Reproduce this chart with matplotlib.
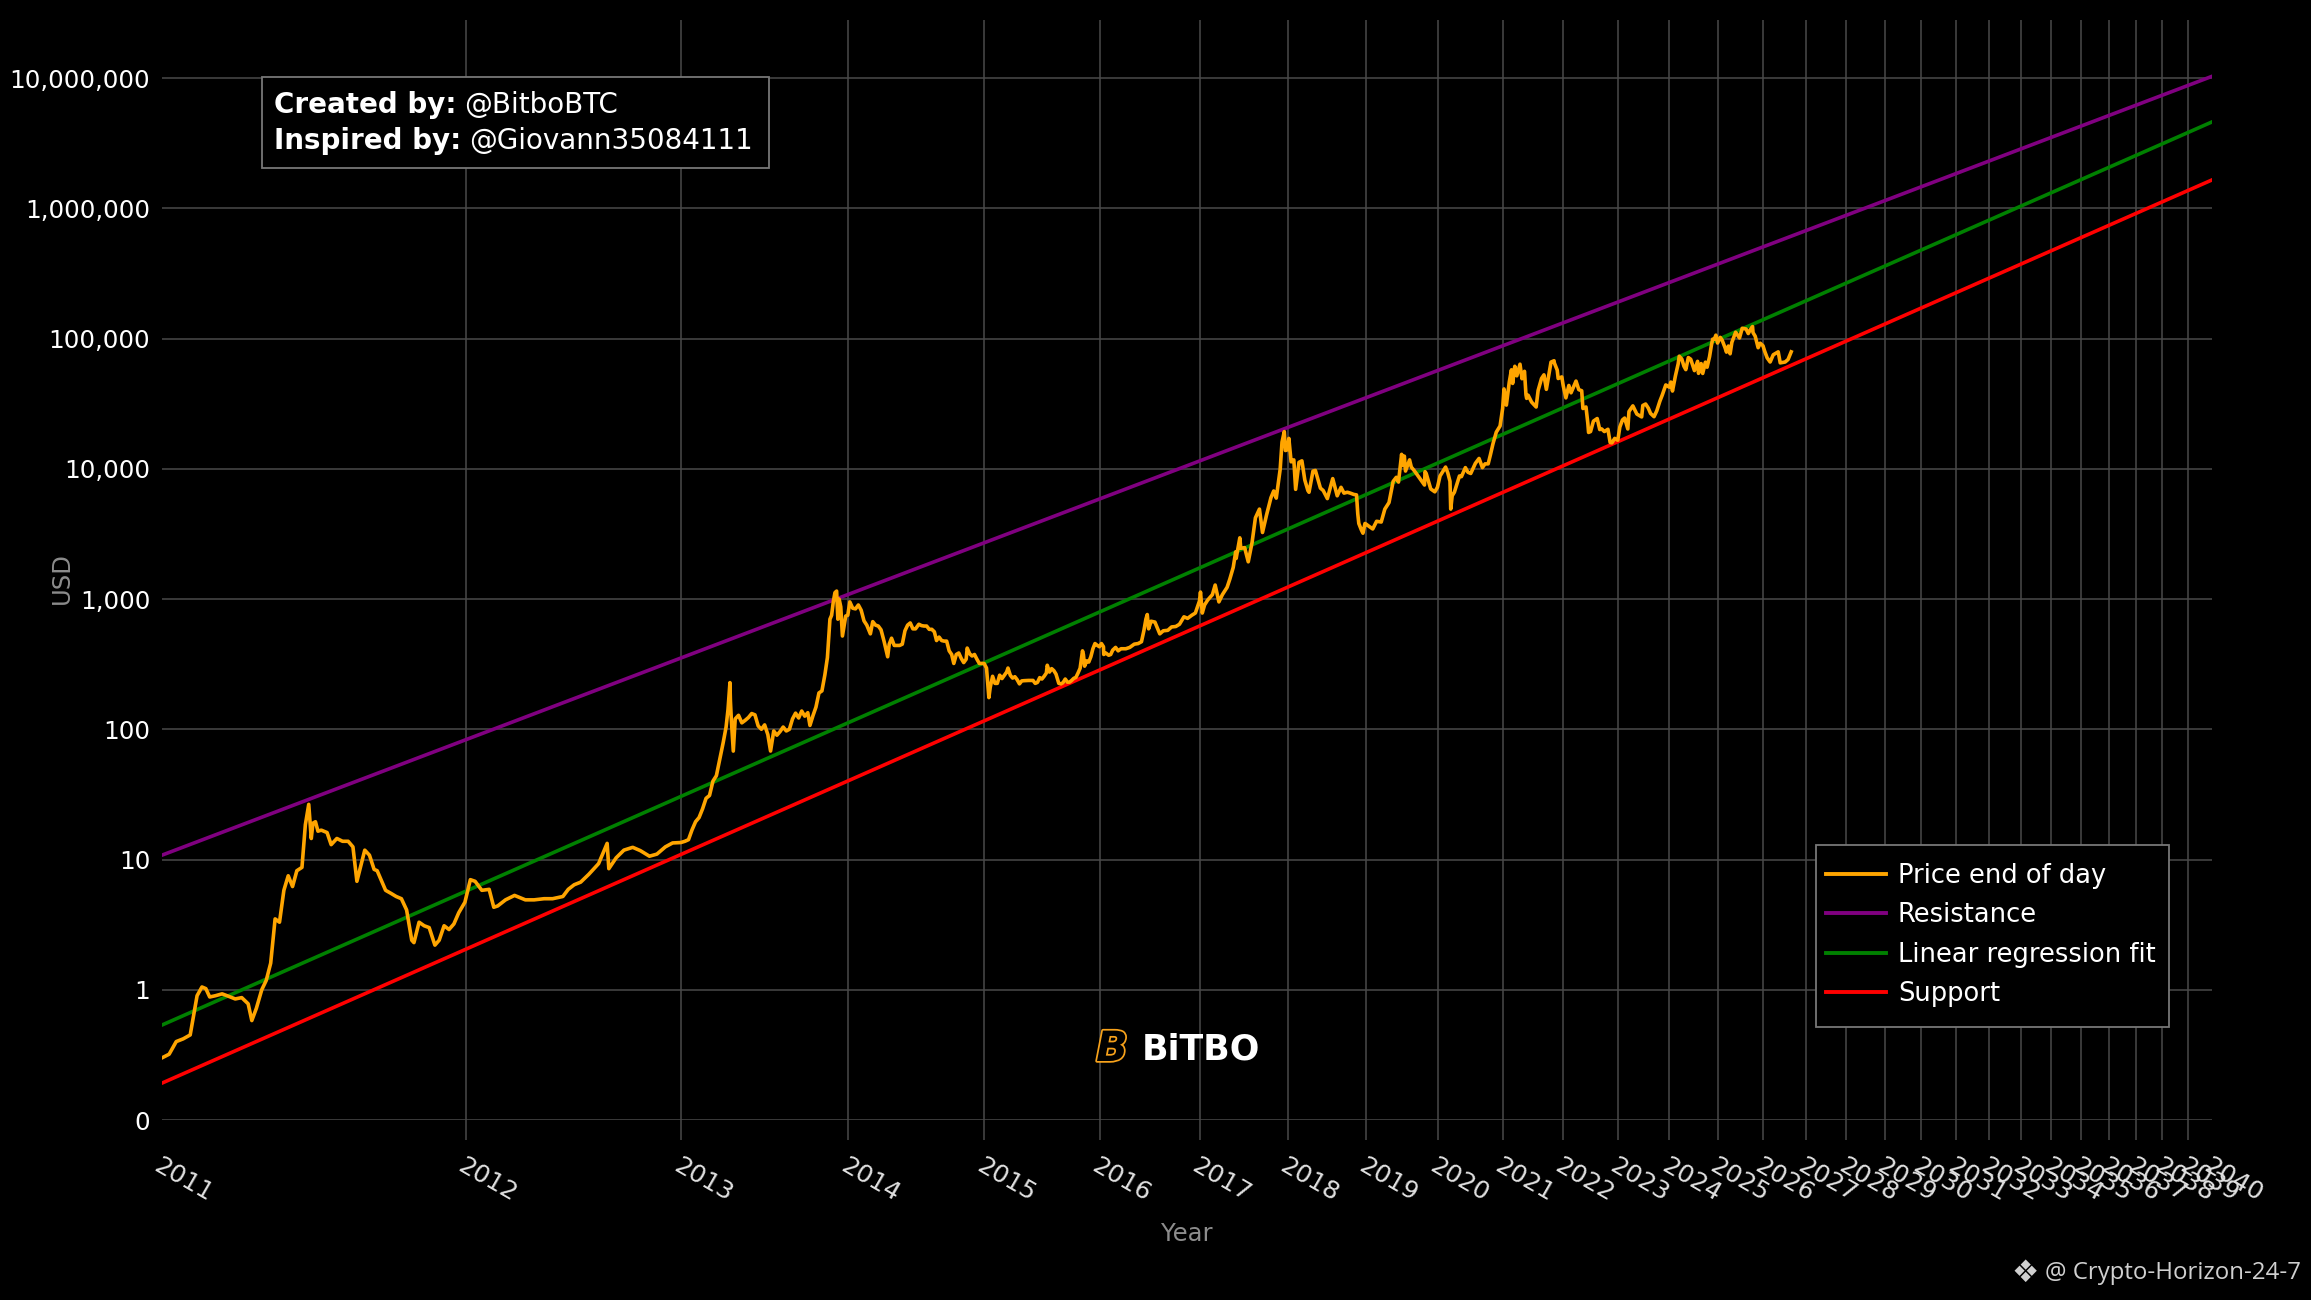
import numpy as np
import matplotlib
matplotlib.use("Agg")
import matplotlib.pyplot as plt
import matplotlib.patheffects as pe
from matplotlib.patches import Rectangle
from matplotlib.ticker import FuncFormatter, NullLocator

plt.rcParams["font.family"] = ["DejaVu Sans"]

GENESIS = np.datetime64("2009-01-03")

# price end of day (month-day, USD)
price_2011 = [("01-01", 0.30), ("01-08", 0.32), ("01-15", 0.40), ("01-22", 0.42), ("01-29", 0.45),
              ("02-05", 0.90), ("02-10", 1.05), ("02-14", 1.02), ("02-18", 0.88), ("02-24", 0.90),
              ("03-03", 0.93), ("03-10", 0.89), ("03-17", 0.85), ("03-24", 0.87), ("03-31", 0.78),
              ("04-04", 0.58), ("04-09", 0.72), ("04-15", 1.00), ("04-20", 1.18), ("04-25", 1.60),
              ("04-30", 3.50), ("05-05", 3.30), ("05-10", 5.80), ("05-15", 7.50), ("05-20", 6.20),
              ("05-25", 8.20), ("05-31", 8.70), ("06-04", 18.5), ("06-08", 26.5), ("06-11", 14.5),
              ("06-13", 19.0), ("06-16", 19.5), ("06-19", 16.5), ("06-23", 16.8), ("06-30", 16.1),
              ("07-05", 13.0), ("07-12", 14.5), ("07-19", 13.8), ("07-26", 13.8), ("08-01", 12.5),
              ("08-06", 6.8), ("08-12", 9.5), ("08-16", 11.8), ("08-22", 10.8), ("08-28", 8.4),
              ("09-01", 8.2), ("09-06", 7.0), ("09-12", 5.8), ("09-19", 5.5), ("09-26", 5.2),
              ("10-03", 5.0), ("10-10", 4.1), ("10-17", 2.4), ("10-20", 2.3), ("10-27", 3.3),
              ("11-03", 3.1), ("11-10", 3.0), ("11-18", 2.2), ("11-24", 2.4), ("12-01", 3.1),
              ("12-08", 2.9), ("12-15", 3.2), ("12-22", 3.9), ("12-31", 4.7)]
price_2012 = [("01-08", 7.0), ("01-15", 6.8), ("01-25", 5.8), ("02-05", 5.9), ("02-12", 4.3),
              ("02-18", 4.4), ("03-01", 4.9), ("03-15", 5.3), ("04-01", 4.9), ("04-15", 4.9),
              ("05-01", 5.0), ("05-15", 5.0), ("06-01", 5.2), ("06-10", 5.9), ("06-20", 6.4),
              ("07-01", 6.7), ("07-15", 7.7), ("08-01", 9.3), ("08-16", 13.3), ("08-19", 8.5),
              ("09-01", 10.3), ("09-15", 11.8), ("10-01", 12.4), ("10-15", 11.7), ("11-01", 10.6),
              ("11-15", 11.0), ("12-01", 12.5), ("12-15", 13.4), ("12-31", 13.5)]
price_2013 = [("01-08", 13.8), ("01-15", 14.2), ("01-22", 16.9), ("01-29", 19.5), ("02-05", 21.0),
              ("02-12", 24.5), ("02-19", 29.5), ("02-26", 31.0), ("03-05", 40.0), ("03-12", 44.0),
              ("03-19", 59.0), ("03-26", 79.0), ("04-01", 104), ("04-05", 142), ("04-09", 228),
              ("04-10", 165), ("04-12", 117), ("04-16", 68), ("04-20", 120), ("04-27", 128),
              ("05-04", 112), ("05-11", 117), ("05-18", 123), ("05-25", 132), ("06-01", 129),
              ("06-08", 106), ("06-15", 100), ("06-22", 108), ("06-29", 91), ("07-05", 68),
              ("07-12", 97), ("07-19", 90), ("07-26", 96), ("08-02", 104), ("08-09", 97),
              ("08-16", 100), ("08-23", 120), ("08-30", 133), ("09-06", 122), ("09-13", 138),
              ("09-20", 126), ("09-27", 134), ("10-02", 107), ("10-09", 127), ("10-16", 148),
              ("10-23", 190), ("10-30", 197), ("11-06", 262), ("11-12", 355), ("11-18", 700),
              ("11-22", 750), ("11-26", 950), ("11-30", 1120), ("12-04", 1150), ("12-07", 700),
              ("12-10", 1000), ("12-14", 870), ("12-18", 520), ("12-22", 620), ("12-26", 740),
              ("12-31", 750)]
price_2014 = [("01-05", 950), ("01-12", 850), ("01-19", 840), ("01-26", 900), ("02-02", 820),
              ("02-09", 680), ("02-16", 630), ("02-25", 540), ("03-03", 670), ("03-10", 630),
              ("03-17", 620), ("03-24", 580), ("04-01", 470), ("04-10", 360), ("04-14", 450),
              ("04-20", 500), ("04-27", 440), ("05-04", 440), ("05-11", 440), ("05-18", 450),
              ("05-25", 570), ("06-01", 630), ("06-08", 655), ("06-15", 590), ("06-22", 590),
              ("07-01", 640), ("07-08", 625), ("07-15", 620), ("07-22", 620), ("07-29", 585),
              ("08-05", 585), ("08-12", 560), ("08-18", 480), ("08-25", 510), ("09-01", 480),
              ("09-08", 475), ("09-15", 475), ("09-22", 400), ("09-29", 375), ("10-05", 320),
              ("10-12", 375), ("10-19", 385), ("10-26", 350), ("11-02", 325), ("11-09", 345),
              ("11-12", 420), ("11-19", 380), ("11-26", 365), ("12-03", 375), ("12-10", 345),
              ("12-17", 320), ("12-24", 320), ("12-31", 320)]
price_2015 = [("01-07", 295), ("01-14", 175), ("01-18", 210), ("01-25", 255), ("02-01", 225),
              ("02-08", 225), ("02-15", 260), ("02-22", 245), ("03-01", 260), ("03-08", 275),
              ("03-12", 295), ("03-19", 260), ("03-26", 247), ("04-02", 253), ("04-09", 240),
              ("04-16", 223), ("04-23", 235), ("04-30", 236), ("05-14", 237), ("05-28", 237),
              ("06-04", 225), ("06-11", 229), ("06-18", 249), ("06-25", 243), ("07-02", 255),
              ("07-09", 270), ("07-12", 310), ("07-19", 275), ("07-26", 292), ("08-02", 282),
              ("08-09", 265), ("08-18", 225), ("08-25", 223), ("09-01", 228), ("09-08", 243),
              ("09-15", 230), ("09-22", 230), ("09-29", 237), ("10-06", 246), ("10-13", 250),
              ("10-20", 270), ("10-27", 294), ("11-04", 400), ("11-07", 375), ("11-11", 305),
              ("11-18", 335), ("11-25", 328), ("12-02", 360), ("12-09", 415), ("12-16", 455),
              ("12-23", 442), ("12-31", 430)]
price_2016 = [("01-07", 455), ("01-14", 430), ("01-15", 375), ("01-22", 385), ("02-01", 370),
              ("02-08", 375), ("02-15", 405), ("02-25", 425), ("03-05", 400), ("03-15", 415),
              ("04-01", 415), ("04-15", 425), ("05-01", 450), ("05-15", 455), ("05-27", 470),
              ("06-05", 575), ("06-12", 700), ("06-17", 760), ("06-22", 590), ("07-01", 675),
              ("07-15", 665), ("08-02", 540), ("08-15", 570), ("09-01", 575), ("09-15", 610),
              ("10-01", 615), ("10-15", 640), ("11-01", 730), ("11-15", 710), ("12-01", 750),
              ("12-15", 780), ("12-31", 965)]
price_2017 = [("01-04", 1130), ("01-11", 780), ("01-20", 900), ("02-01", 980), ("02-20", 1080),
              ("03-03", 1280), ("03-18", 950), ("04-01", 1080), ("04-20", 1230), ("05-01", 1420),
              ("05-15", 1750), ("05-25", 2300), ("05-27", 2050), ("06-11", 2950), ("06-15", 2450),
              ("07-01", 2480), ("07-16", 1930), ("08-01", 2720), ("08-15", 4200), ("09-01", 4900),
              ("09-14", 3240), ("10-01", 4400), ("10-20", 5990), ("11-01", 6750), ("11-12", 5950),
              ("11-29", 9900), ("12-07", 16000), ("12-17", 19300), ("12-22", 13800), ("12-31", 14000)]
price_2018 = [("01-06", 17100), ("01-16", 11300), ("01-28", 11700), ("02-05", 6950), ("02-20", 11200),
              ("03-05", 11500), ("03-18", 8200), ("04-01", 6800), ("04-06", 6600), ("04-24", 9600),
              ("05-05", 9700), ("05-28", 7100), ("06-10", 6800), ("06-29", 5900), ("07-24", 8400),
              ("08-14", 6200), ("09-01", 7200), ("09-15", 6500), ("10-01", 6600), ("10-15", 6500),
              ("11-01", 6350), ("11-14", 6300), ("11-20", 4500), ("11-25", 3800), ("12-07", 3400),
              ("12-15", 3200), ("12-25", 3800), ("12-31", 3750)]
price_2019 = [("01-15", 3600), ("02-01", 3450), ("02-20", 3950), ("03-15", 3900), ("04-02", 4900),
              ("04-23", 5500), ("05-14", 8000), ("05-30", 8600), ("06-10", 7900), ("06-26", 12900),
              ("07-02", 10600), ("07-10", 12500), ("07-16", 9600), ("08-06", 11700), ("08-15", 10300),
              ("09-01", 9600), ("09-24", 8600), ("10-01", 8300), ("10-23", 7500), ("10-26", 9500),
              ("11-01", 9200), ("11-25", 7000), ("12-17", 6650), ("12-31", 7200)]
price_2020 = [("01-14", 8800), ("02-13", 10300), ("02-25", 9300), ("03-08", 8000), ("03-12", 4900),
              ("03-20", 6200), ("04-01", 6600), ("04-29", 8800), ("05-10", 8700), ("06-01", 10200),
              ("06-15", 9400), ("07-01", 9200), ("07-27", 11000), ("08-17", 12000), ("09-05", 10200),
              ("09-20", 10900), ("10-08", 10900), ("10-21", 12800), ("11-05", 15600), ("11-24", 19100),
              ("12-16", 21300), ("12-31", 29000)]
price_2021 = [("01-08", 41000), ("01-22", 30800), ("02-08", 46200), ("02-21", 57500), ("02-28", 45200),
              ("03-13", 61200), ("03-25", 51700), ("04-13", 63500), ("04-25", 49100), ("05-10", 56000),
              ("05-19", 37000), ("05-23", 34700), ("06-01", 36700), ("06-22", 32500), ("07-20", 29800),
              ("08-01", 39900), ("08-22", 49300), ("09-06", 52600), ("09-21", 40700), ("10-01", 48200),
              ("10-20", 65900), ("11-08", 67500), ("11-10", 64900), ("11-28", 57200), ("12-04", 49300),
              ("12-27", 50700)]
price_2022 = [("01-05", 43400), ("01-22", 35000), ("02-10", 43600), ("02-24", 38300), ("03-28", 47100),
              ("04-15", 40500), ("05-04", 39700), ("05-12", 29000), ("06-01", 29800), ("06-13", 22400),
              ("06-18", 19000), ("07-01", 19300), ("07-20", 23200), ("08-14", 24300), ("08-31", 20000),
              ("09-13", 20200), ("10-01", 19300), ("10-25", 20100), ("11-09", 15900), ("11-21", 15800),
              ("12-10", 17100), ("12-31", 16550)]
price_2023 = [("01-14", 20900), ("02-01", 23700), ("02-16", 24500), ("03-10", 20200), ("03-18", 27500),
              ("04-14", 30400), ("05-12", 26300), ("06-15", 25000), ("06-23", 30600), ("07-13", 31400),
              ("08-01", 29200), ("08-17", 26600), ("09-11", 25100), ("10-01", 27900), ("10-23", 33000),
              ("11-09", 36700), ("12-05", 44000), ("12-31", 42300)]
price_2024 = [("01-11", 46300), ("01-23", 39500), ("02-14", 51800), ("03-05", 63800), ("03-13", 73100),
              ("04-01", 69600), ("04-17", 61300), ("05-01", 57700), ("05-20", 71400), ("06-07", 69300),
              ("07-05", 56700), ("07-29", 66800), ("08-05", 54000), ("08-25", 64200), ("09-06", 53900),
              ("09-27", 65800), ("10-10", 60200), ("10-29", 72700), ("11-12", 88700), ("11-22", 98900),
              ("12-05", 98800), ("12-17", 106100), ("12-30", 92300)]
price_2025 = [("01-20", 102000), ("02-03", 97700), ("02-28", 84400), ("03-10", 78600), ("03-25", 87500),
              ("04-08", 76300), ("04-22", 93400), ("05-22", 111700), ("06-22", 100900), ("07-14", 119800),
              ("08-14", 118300), ("09-01", 109200), ("09-18", 117000), ("10-06", 123500), ("10-10", 111000),
              ("10-28", 104000), ("11-21", 85000), ("12-08", 92000), ("12-31", 88000)]
price_2026 = [("01-14", 80000), ("02-04", 71000), ("03-01", 66000), ("03-27", 75000), ("05-08", 79000),
              ("05-25", 65000), ("07-06", 66000), ("07-31", 69000), ("08-27", 79000)]

price_by_year = {2011: price_2011, 2012: price_2012, 2013: price_2013, 2014: price_2014,
                 2015: price_2015, 2016: price_2016, 2017: price_2017, 2018: price_2018,
                 2019: price_2019, 2020: price_2020, 2021: price_2021, 2022: price_2022,
                 2023: price_2023, 2024: price_2024, 2025: price_2025, 2026: price_2026}

# power-law bands, value at both ends of the axis
line_dates = ["2011-01-01", "2040-01-01"]
resistance_usd = [10.8, 10.3e6]
regression_usd = [0.536, 4.6e6]
support_usd = [0.192, 1.65e6]

years = list(range(2011, 2041))
y_ticks = [0.1, 1, 10, 100, 1e3, 1e4, 1e5, 1e6, 1e7]


def to_days(dates):
    return (np.array(dates, dtype="datetime64[D]") - GENESIS).astype(float)


price_dates = []
price_usd = []
for yr, rows in price_by_year.items():
    for md, v in rows:
        price_dates.append(f"{yr}-{md}")
        price_usd.append(v)

W, H = 2311, 1300
fig = plt.figure(figsize=(W / 100, H / 100), dpi=100, facecolor="black")
ax = fig.add_axes([162 / W, 1 - 1120 / H, 2050 / W, 1100 / H])
ax.set_facecolor("black")

grid_c = "#4a4a4a"
lw = 2.6
x_line = to_days(line_dates)
l_res, = ax.plot(x_line, resistance_usd, color="#800080", lw=lw, label="Resistance")
l_reg, = ax.plot(x_line, regression_usd, color="#008000", lw=lw, label="Linear regression fit")
l_sup, = ax.plot(x_line, support_usd, color="#ff0000", lw=lw, label="Support")
l_price, = ax.plot(to_days(price_dates), price_usd, color="#ffa500", lw=lw,
                   label="Price end of day")

ax.set_xscale("log")
ax.set_yscale("log")
ax.set_xlim(to_days(["2011-01-01"])[0], to_days(["2040-01-01"])[0])
ax.set_ylim(0.1, 10 ** 7.4453)

tick_days = to_days([f"{y}-01-01" for y in years])
ax.set_xticks(tick_days)
ax.set_xticklabels([str(y) for y in years])
ax.xaxis.set_minor_locator(NullLocator())
ax.set_yticks(y_ticks)
ax.yaxis.set_major_formatter(FuncFormatter(lambda v, p: f"{v:,.0f}"))
ax.yaxis.set_minor_locator(NullLocator())

for s in ax.spines.values():
    s.set_visible(False)

ax.grid(True, color=grid_c, lw=1.1)
ax.set_axisbelow(True)
ax.tick_params(axis="x", length=14.4, width=1.1, color=grid_c, pad=10,
               labelsize=18, labelcolor="#e0e0e0")
ax.tick_params(axis="y", length=0, pad=8.5, labelsize=17.7, labelcolor="white")
for lbl in ax.get_xticklabels():
    lbl.set_rotation(-30)
    lbl.set_ha("left")
    lbl.set_va("top")
    lbl.set_rotation_mode("anchor")

xt = ax.xaxis.get_major_ticks()
for t in (xt[0], xt[-1]):
    t.tick1line.set_visible(False)
    t.gridline.set_visible(False)

# axis titles
fig.text(1187 / W, 1 - 1234 / H, "Year", color="#8c8c8c", fontsize=17.5, ha="center", va="center")
fig.text(62 / W, 1 - 578 / H, "USD", color="#8c8c8c", fontsize=17.5, rotation=90,
         ha="center", va="center")

# credits box
fig.add_artist(Rectangle((262 / W, 1 - 168 / H), 507 / W, 91 / H, transform=fig.transFigure,
                         facecolor="black", edgecolor="#777777", lw=1.3, zorder=4))
t1 = fig.text(274 / W, 1 - 105 / H, "Created by:", color="white", fontsize=20,
              fontweight="bold", va="center", zorder=5)
t2 = fig.text(274 / W, 1 - 141 / H, "Inspired by:", color="white", fontsize=20,
              fontweight="bold", va="center", zorder=5)

# legend with its own frame
fig.add_artist(Rectangle((1816 / W, 1 - 1027 / H), 353 / W, 182 / H, transform=fig.transFigure,
                         facecolor="black", edgecolor="#777777", lw=1.3, zorder=4))
leg = fig.legend(handles=[l_price, l_res, l_reg, l_sup], loc="center left",
                 bbox_to_anchor=(1826 / W, 1 - 935 / H), frameon=False, fontsize=18.5,
                 labelcolor="white", handlelength=2.35, handletextpad=0.45,
                 labelspacing=0.53, borderpad=0, borderaxespad=0)
leg.set_zorder(5)
for h in leg.legend_handles:
    h.set_linewidth(2.8)

# bitbo logo
fig.text(1112 / W, 1 - 1049 / H, "B", color="black", fontsize=30, fontweight="bold",
         ha="center", va="center", fontstyle="italic",
         path_effects=[pe.withStroke(linewidth=2.5, foreground="#f7a21b")])
fig.text(1201 / W, 1 - 1049 / H, "BiTBO", color="white", fontsize=25, fontweight="bold",
         ha="center", va="center")

# watermark
fig.text(2025 / W, 1 - 1273 / H, "\u2756", color="#d0d0d0", fontsize=22,
         ha="center", va="center", family=["DejaVu Sans"])
fig.text(2045 / W, 1 - 1273 / H, "@ Crypto-Horizon-24-7", color="#d0d0d0", fontsize=17.3,
         ha="left", va="center", family=["Open Sans", "DejaVu Sans"])

# regular part of the credit lines goes right after the bold part
fig.canvas.draw()
r = fig.canvas.get_renderer()
for t, handle in ((t1, "@BitboBTC"), (t2, "@Giovann35084111")):
    bb = t.get_window_extent(r)
    x0 = (bb.x1 + 8) / W
    fig.text(x0, t.get_position()[1], handle, color="white", fontsize=20,
             va="center", zorder=5)

fig.savefig("out.png", dpi=100, facecolor="black")
